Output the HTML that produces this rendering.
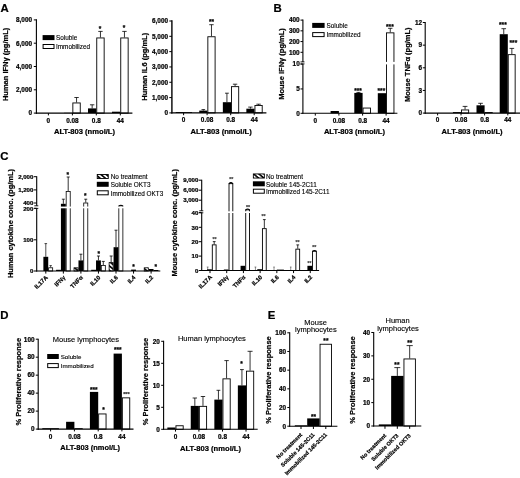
<!DOCTYPE html>
<html lang="en">
<head>
<meta charset="utf-8">
<title>Figure</title>
<style>
html,body{margin:0;padding:0;background:#fff;}
body{width:520px;height:478px;overflow:hidden;}
svg{display:block;font-family:'Liberation Sans', Arial, Helvetica, sans-serif;filter:blur(0.35px);}
</style>
</head>
<body>
<svg width="520" height="478" viewBox="0 0 520 478">
<defs>
<pattern id="hatch" width="3.4" height="3.4" patternUnits="userSpaceOnUse" patternTransform="rotate(40)">
<rect width="3.4" height="3.4" fill="#fff"/>
<rect width="3.4" height="1.6" fill="#000"/>
</pattern>
</defs>
<rect width="520" height="478" fill="#fff"/>
<text x="0.5" y="11.7" font-size="11.4" text-anchor="start" fill="#000" font-weight="bold" stroke="#000" stroke-width="0.22">A</text>
<text x="273.4" y="11.7" font-size="11.4" text-anchor="start" fill="#000" font-weight="bold" stroke="#000" stroke-width="0.22">B</text>
<text x="0.3" y="160.3" font-size="11.4" text-anchor="start" fill="#000" font-weight="bold" stroke="#000" stroke-width="0.22">C</text>
<text x="0.3" y="318.7" font-size="11.4" text-anchor="start" fill="#000" font-weight="bold" stroke="#000" stroke-width="0.22">D</text>
<text x="267.8" y="318.7" font-size="11.4" text-anchor="start" fill="#000" font-weight="bold" stroke="#000" stroke-width="0.22">E</text>
<g>
<rect x="64.1" y="112.81" width="8.3" height="0.29" fill="#000"/>
<rect x="72.85" y="102.95" width="7.4" height="10.15" fill="#fff" stroke="#000" stroke-width="0.9"/>
<line x1="76.55" y1="97.5" x2="76.55" y2="102.5" stroke="#000" stroke-width="0.8"/>
<line x1="74.35" y1="97.5" x2="78.75" y2="97.5" stroke="#000" stroke-width="0.8"/>
<line x1="92.15" y1="104.8" x2="92.15" y2="108.4" stroke="#000" stroke-width="0.8"/>
<line x1="89.95" y1="104.8" x2="94.35" y2="104.8" stroke="#000" stroke-width="0.8"/>
<rect x="88" y="108.4" width="8.3" height="4.7" fill="#000"/>
<line x1="100.45" y1="31.4" x2="100.45" y2="37.5" stroke="#000" stroke-width="0.8"/>
<line x1="98.25" y1="31.4" x2="102.65" y2="31.4" stroke="#000" stroke-width="0.8"/>
<rect x="96.75" y="37.95" width="7.4" height="75.15" fill="#fff" stroke="#000" stroke-width="0.9"/>
<rect x="112" y="111.7" width="8.3" height="1.4" fill="#000"/>
<line x1="124.45" y1="31.4" x2="124.45" y2="37.5" stroke="#000" stroke-width="0.8"/>
<line x1="122.25" y1="31.4" x2="126.65" y2="31.4" stroke="#000" stroke-width="0.8"/>
<rect x="120.75" y="37.95" width="7.4" height="75.15" fill="#fff" stroke="#000" stroke-width="0.9"/>
<text x="100.1" y="30.98" font-size="6.5" text-anchor="middle" fill="#000" font-weight="bold" stroke="#000" stroke-width="0.22">*</text>
<text x="124.1" y="29.78" font-size="6.5" text-anchor="middle" fill="#000" font-weight="bold" stroke="#000" stroke-width="0.22">*</text>
<line x1="36.4" y1="19.35" x2="36.4" y2="113.65" stroke="#000" stroke-width="1.1"/>
<line x1="35.85" y1="113.1" x2="132.4" y2="113.1" stroke="#000" stroke-width="1.1"/>
<line x1="33.8" y1="113.1" x2="36.4" y2="113.1" stroke="#000" stroke-width="1"/>
<text x="32" y="115.4" font-size="6.4" text-anchor="end" fill="#000" font-weight="bold" stroke="#000" stroke-width="0.22">0</text>
<line x1="33.8" y1="89.8" x2="36.4" y2="89.8" stroke="#000" stroke-width="1"/>
<text x="32" y="92.1" font-size="6.4" text-anchor="end" fill="#000" font-weight="bold" stroke="#000" stroke-width="0.22">2,000</text>
<line x1="33.8" y1="66.5" x2="36.4" y2="66.5" stroke="#000" stroke-width="1"/>
<text x="32" y="68.8" font-size="6.4" text-anchor="end" fill="#000" font-weight="bold" stroke="#000" stroke-width="0.22">4,000</text>
<line x1="33.8" y1="43.2" x2="36.4" y2="43.2" stroke="#000" stroke-width="1"/>
<text x="32" y="45.5" font-size="6.4" text-anchor="end" fill="#000" font-weight="bold" stroke="#000" stroke-width="0.22">6,000</text>
<line x1="33.8" y1="19.9" x2="36.4" y2="19.9" stroke="#000" stroke-width="1"/>
<text x="32" y="22.2" font-size="6.4" text-anchor="end" fill="#000" font-weight="bold" stroke="#000" stroke-width="0.22">8,000</text>
<line x1="48.4" y1="113.1" x2="48.4" y2="115.4" stroke="#000" stroke-width="1"/>
<text x="48.4" y="122.7" font-size="6.4" text-anchor="middle" fill="#000" font-weight="bold" stroke="#000" stroke-width="0.22">0</text>
<line x1="72.4" y1="113.1" x2="72.4" y2="115.4" stroke="#000" stroke-width="1"/>
<text x="72.4" y="122.7" font-size="6.4" text-anchor="middle" fill="#000" font-weight="bold" stroke="#000" stroke-width="0.22">0.08</text>
<line x1="96.3" y1="113.1" x2="96.3" y2="115.4" stroke="#000" stroke-width="1"/>
<text x="96.3" y="122.7" font-size="6.4" text-anchor="middle" fill="#000" font-weight="bold" stroke="#000" stroke-width="0.22">0.8</text>
<line x1="120.3" y1="113.1" x2="120.3" y2="115.4" stroke="#000" stroke-width="1"/>
<text x="120.3" y="122.7" font-size="6.4" text-anchor="middle" fill="#000" font-weight="bold" stroke="#000" stroke-width="0.22">44</text>
<text x="84.5" y="133.6" font-size="7.6" text-anchor="middle" fill="#000" font-weight="bold" stroke="#000" stroke-width="0.22">ALT-803 (nmol/L)</text>
<text x="7.7" y="64.4" font-size="7.5" text-anchor="middle" fill="#000" font-weight="bold" stroke="#000" stroke-width="0.22" transform="rotate(-90 7.7 64.4)">Human IFNγ (pg/mL)</text>
<rect x="42.6" y="35.1" width="11.9" height="5" fill="#000"/>
<rect x="43.1" y="44.5" width="10.9" height="4" fill="#fff" stroke="#000" stroke-width="1"/>
<text x="56" y="39.9" font-size="6.4" text-anchor="start" fill="#000" stroke="#000" stroke-width="0.12">Soluble</text>
<text x="56" y="48.8" font-size="6.4" text-anchor="start" fill="#000" stroke="#000" stroke-width="0.12">Immobilized</text>
</g>
<g>
<rect x="175.75" y="112" width="8.15" height="0.9" fill="#000"/>
<rect x="183.9" y="112.1" width="8.15" height="0.8" fill="#000"/>
<line x1="203.33" y1="109.6" x2="203.33" y2="110.6" stroke="#000" stroke-width="0.8"/>
<line x1="201.53" y1="109.6" x2="205.13" y2="109.6" stroke="#000" stroke-width="0.8"/>
<rect x="199.25" y="110.6" width="8.15" height="2.3" fill="#000"/>
<line x1="211.47" y1="24.7" x2="211.47" y2="36.3" stroke="#000" stroke-width="0.8"/>
<line x1="209.28" y1="24.7" x2="213.67" y2="24.7" stroke="#000" stroke-width="0.8"/>
<rect x="207.85" y="36.75" width="7.25" height="76.15" fill="#fff" stroke="#000" stroke-width="0.9"/>
<text x="211.5" y="24.38" font-size="6.5" text-anchor="middle" fill="#000" font-weight="bold" stroke="#000" stroke-width="0.22">**</text>
<line x1="226.93" y1="93.2" x2="226.93" y2="102.2" stroke="#000" stroke-width="0.8"/>
<line x1="225.03" y1="93.2" x2="228.83" y2="93.2" stroke="#000" stroke-width="0.8"/>
<rect x="222.85" y="102.2" width="8.15" height="10.7" fill="#000"/>
<line x1="235.07" y1="84.2" x2="235.07" y2="86.2" stroke="#000" stroke-width="0.8"/>
<line x1="232.88" y1="84.2" x2="237.27" y2="84.2" stroke="#000" stroke-width="0.8"/>
<rect x="231.45" y="86.65" width="7.25" height="26.25" fill="#fff" stroke="#000" stroke-width="0.9"/>
<line x1="250.43" y1="107.1" x2="250.43" y2="108.7" stroke="#000" stroke-width="0.8"/>
<line x1="248.23" y1="107.1" x2="252.62" y2="107.1" stroke="#000" stroke-width="0.8"/>
<rect x="246.35" y="108.7" width="8.15" height="4.2" fill="#000"/>
<line x1="258.57" y1="104.2" x2="258.57" y2="105" stroke="#000" stroke-width="0.8"/>
<line x1="256.38" y1="104.2" x2="260.77" y2="104.2" stroke="#000" stroke-width="0.8"/>
<rect x="254.95" y="105.45" width="7.25" height="7.45" fill="#fff" stroke="#000" stroke-width="0.9"/>
<line x1="171.9" y1="20.3" x2="171.9" y2="113.6" stroke="#000" stroke-width="1.4"/>
<line x1="171.3" y1="112.9" x2="266.4" y2="112.9" stroke="#000" stroke-width="1.2"/>
<line x1="169.3" y1="112.9" x2="171.9" y2="112.9" stroke="#000" stroke-width="1"/>
<text x="168" y="115.2" font-size="6.4" text-anchor="end" fill="#000" font-weight="bold" stroke="#000" stroke-width="0.22">0</text>
<line x1="169.3" y1="97.58" x2="171.9" y2="97.58" stroke="#000" stroke-width="1"/>
<text x="168" y="99.89" font-size="6.4" text-anchor="end" fill="#000" font-weight="bold" stroke="#000" stroke-width="0.22">1,000</text>
<line x1="169.3" y1="82.27" x2="171.9" y2="82.27" stroke="#000" stroke-width="1"/>
<text x="168" y="84.57" font-size="6.4" text-anchor="end" fill="#000" font-weight="bold" stroke="#000" stroke-width="0.22">2,000</text>
<line x1="169.3" y1="66.95" x2="171.9" y2="66.95" stroke="#000" stroke-width="1"/>
<text x="168" y="69.25" font-size="6.4" text-anchor="end" fill="#000" font-weight="bold" stroke="#000" stroke-width="0.22">3,000</text>
<line x1="169.3" y1="51.63" x2="171.9" y2="51.63" stroke="#000" stroke-width="1"/>
<text x="168" y="53.94" font-size="6.4" text-anchor="end" fill="#000" font-weight="bold" stroke="#000" stroke-width="0.22">4,000</text>
<line x1="169.3" y1="36.32" x2="171.9" y2="36.32" stroke="#000" stroke-width="1"/>
<text x="168" y="38.62" font-size="6.4" text-anchor="end" fill="#000" font-weight="bold" stroke="#000" stroke-width="0.22">5,000</text>
<line x1="169.3" y1="21" x2="171.9" y2="21" stroke="#000" stroke-width="1"/>
<text x="168" y="23.3" font-size="6.4" text-anchor="end" fill="#000" font-weight="bold" stroke="#000" stroke-width="0.22">6,000</text>
<line x1="183.6" y1="112.9" x2="183.6" y2="115.2" stroke="#000" stroke-width="1"/>
<text x="183.6" y="122.2" font-size="6.4" text-anchor="middle" fill="#000" font-weight="bold" stroke="#000" stroke-width="0.22">0</text>
<line x1="207.1" y1="112.9" x2="207.1" y2="115.2" stroke="#000" stroke-width="1"/>
<text x="207.1" y="122.2" font-size="6.4" text-anchor="middle" fill="#000" font-weight="bold" stroke="#000" stroke-width="0.22">0.08</text>
<line x1="230.7" y1="112.9" x2="230.7" y2="115.2" stroke="#000" stroke-width="1"/>
<text x="230.7" y="122.2" font-size="6.4" text-anchor="middle" fill="#000" font-weight="bold" stroke="#000" stroke-width="0.22">0.8</text>
<line x1="254.2" y1="112.9" x2="254.2" y2="115.2" stroke="#000" stroke-width="1"/>
<text x="254.2" y="122.2" font-size="6.4" text-anchor="middle" fill="#000" font-weight="bold" stroke="#000" stroke-width="0.22">44</text>
<text x="221.1" y="133.6" font-size="7.65" text-anchor="middle" fill="#000" font-weight="bold" stroke="#000" stroke-width="0.22">ALT-803 (nmol/L)</text>
<text x="146.8" y="66.8" font-size="7.5" text-anchor="middle" fill="#000" font-weight="bold" stroke="#000" stroke-width="0.22" transform="rotate(-90 146.8 66.8)">Human IL6 (pg/mL)</text>
</g>
<g>
<rect x="330.6" y="111" width="8.3" height="2.3" fill="#000"/>
<rect x="354.3" y="92.9" width="8.3" height="20.4" fill="#000"/>
<line x1="358.45" y1="92.4" x2="358.45" y2="93" stroke="#000" stroke-width="0.8"/>
<line x1="356.45" y1="92.4" x2="360.45" y2="92.4" stroke="#000" stroke-width="0.8"/>
<rect x="363.05" y="108.05" width="7.4" height="5.25" fill="#fff" stroke="#000" stroke-width="0.9"/>
<rect x="377.8" y="93.2" width="8.3" height="20.1" fill="#000"/>
<line x1="390.25" y1="28.3" x2="390.25" y2="32.4" stroke="#000" stroke-width="0.8"/>
<line x1="388.05" y1="28.3" x2="392.45" y2="28.3" stroke="#000" stroke-width="0.8"/>
<rect x="386.55" y="32.85" width="7.4" height="80.45" fill="#fff" stroke="#000" stroke-width="0.9"/>
<rect x="385.8" y="61.9" width="9.5" height="2.5" fill="#fff"/>
<text x="358" y="93.28" font-size="6.5" text-anchor="middle" fill="#000" font-weight="bold" stroke="#000" stroke-width="0.22">***</text>
<text x="381.4" y="93.28" font-size="6.5" text-anchor="middle" fill="#000" font-weight="bold" stroke="#000" stroke-width="0.22">***</text>
<text x="389.9" y="28.78" font-size="6.5" text-anchor="middle" fill="#000" font-weight="bold" stroke="#000" stroke-width="0.22">***</text>
<line x1="302.9" y1="19.6" x2="302.9" y2="61.9" stroke="#000" stroke-width="1.1"/>
<line x1="302.9" y1="63.9" x2="302.9" y2="113.8" stroke="#000" stroke-width="1.1"/>
<line x1="300.5" y1="61.9" x2="304.5" y2="61.9" stroke="#000" stroke-width="0.9"/>
<line x1="300.5" y1="63.9" x2="304.5" y2="63.9" stroke="#000" stroke-width="0.9"/>
<line x1="302.35" y1="113.3" x2="397.4" y2="113.3" stroke="#000" stroke-width="1.1"/>
<line x1="300.5" y1="20.11" x2="302.9" y2="20.11" stroke="#000" stroke-width="1"/>
<text x="299.7" y="22.41" font-size="6.4" text-anchor="end" fill="#000" font-weight="bold" stroke="#000" stroke-width="0.22">400</text>
<line x1="300.5" y1="30.84" x2="302.9" y2="30.84" stroke="#000" stroke-width="1"/>
<text x="299.7" y="33.14" font-size="6.4" text-anchor="end" fill="#000" font-weight="bold" stroke="#000" stroke-width="0.22">300</text>
<line x1="300.5" y1="41.57" x2="302.9" y2="41.57" stroke="#000" stroke-width="1"/>
<text x="299.7" y="43.87" font-size="6.4" text-anchor="end" fill="#000" font-weight="bold" stroke="#000" stroke-width="0.22">200</text>
<line x1="300.5" y1="52.3" x2="302.9" y2="52.3" stroke="#000" stroke-width="1"/>
<text x="299.7" y="54.6" font-size="6.4" text-anchor="end" fill="#000" font-weight="bold" stroke="#000" stroke-width="0.22">100</text>
<line x1="300.5" y1="64.1" x2="302.9" y2="64.1" stroke="#000" stroke-width="1"/>
<text x="299.7" y="66.4" font-size="6.4" text-anchor="end" fill="#000" font-weight="bold" stroke="#000" stroke-width="0.22">10</text>
<line x1="300.5" y1="88.95" x2="302.9" y2="88.95" stroke="#000" stroke-width="1"/>
<text x="299.7" y="91.25" font-size="6.4" text-anchor="end" fill="#000" font-weight="bold" stroke="#000" stroke-width="0.22">5</text>
<line x1="300.5" y1="113.3" x2="302.9" y2="113.3" stroke="#000" stroke-width="1"/>
<text x="299.7" y="115.6" font-size="6.4" text-anchor="end" fill="#000" font-weight="bold" stroke="#000" stroke-width="0.22">0</text>
<line x1="315.3" y1="113.3" x2="315.3" y2="115.6" stroke="#000" stroke-width="1"/>
<text x="315.3" y="122.5" font-size="6.4" text-anchor="middle" fill="#000" font-weight="bold" stroke="#000" stroke-width="0.22">0</text>
<line x1="338.9" y1="113.3" x2="338.9" y2="115.6" stroke="#000" stroke-width="1"/>
<text x="338.9" y="122.5" font-size="6.4" text-anchor="middle" fill="#000" font-weight="bold" stroke="#000" stroke-width="0.22">0.08</text>
<line x1="362.6" y1="113.3" x2="362.6" y2="115.6" stroke="#000" stroke-width="1"/>
<text x="362.6" y="122.5" font-size="6.4" text-anchor="middle" fill="#000" font-weight="bold" stroke="#000" stroke-width="0.22">0.8</text>
<line x1="386.1" y1="113.3" x2="386.1" y2="115.6" stroke="#000" stroke-width="1"/>
<text x="386.1" y="122.5" font-size="6.4" text-anchor="middle" fill="#000" font-weight="bold" stroke="#000" stroke-width="0.22">44</text>
<text x="354.4" y="133.6" font-size="7.6" text-anchor="middle" fill="#000" font-weight="bold" stroke="#000" stroke-width="0.22">ALT-803 (nmol/L)</text>
<text x="283.7" y="64" font-size="7.5" text-anchor="middle" fill="#000" font-weight="bold" stroke="#000" stroke-width="0.22" transform="rotate(-90 283.7 64)">Mouse IFNγ (pg/mL)</text>
<rect x="312.2" y="22.9" width="12.4" height="5" fill="#000"/>
<rect x="312.7" y="32.6" width="11.4" height="4" fill="#fff" stroke="#000" stroke-width="1"/>
<text x="326.4" y="27.7" font-size="6.4" text-anchor="start" fill="#000" stroke="#000" stroke-width="0.12">Soluble</text>
<text x="326.4" y="36.9" font-size="6.4" text-anchor="start" fill="#000" stroke="#000" stroke-width="0.12">Immobilized</text>
</g>
<g>
<rect x="452.9" y="112.1" width="8.1" height="1" fill="#000"/>
<line x1="465.05" y1="106.4" x2="465.05" y2="109.5" stroke="#000" stroke-width="0.8"/>
<line x1="462.65" y1="106.4" x2="467.45" y2="106.4" stroke="#000" stroke-width="0.8"/>
<rect x="461.45" y="109.95" width="7.2" height="3.15" fill="#fff" stroke="#000" stroke-width="0.9"/>
<line x1="480.55" y1="103.3" x2="480.55" y2="105.3" stroke="#000" stroke-width="0.8"/>
<line x1="478.25" y1="103.3" x2="482.85" y2="103.3" stroke="#000" stroke-width="0.8"/>
<rect x="476.5" y="105.3" width="8.1" height="7.8" fill="#000"/>
<rect x="484.6" y="112.1" width="8.1" height="1" fill="#000"/>
<line x1="503.75" y1="28.7" x2="503.75" y2="34.2" stroke="#000" stroke-width="0.8"/>
<line x1="501.45" y1="28.7" x2="506.05" y2="28.7" stroke="#000" stroke-width="0.8"/>
<rect x="499.7" y="34.2" width="8.1" height="78.9" fill="#000"/>
<line x1="511.85" y1="48.4" x2="511.85" y2="54.2" stroke="#000" stroke-width="0.8"/>
<line x1="509.55" y1="48.4" x2="514.15" y2="48.4" stroke="#000" stroke-width="0.8"/>
<rect x="508.25" y="54.65" width="6.9" height="58.45" fill="#fff" stroke="#000" stroke-width="0.9"/>
<text x="502.9" y="27.28" font-size="6.5" text-anchor="middle" fill="#000" font-weight="bold" stroke="#000" stroke-width="0.22">***</text>
<text x="513.4" y="44.88" font-size="6.5" text-anchor="middle" fill="#000" font-weight="bold" stroke="#000" stroke-width="0.22">***</text>
<line x1="425.2" y1="21.95" x2="425.2" y2="113.65" stroke="#000" stroke-width="1.1"/>
<line x1="424.65" y1="113.1" x2="520" y2="113.1" stroke="#000" stroke-width="1.1"/>
<line x1="422.8" y1="113.1" x2="425.2" y2="113.1" stroke="#000" stroke-width="1"/>
<text x="422" y="115.4" font-size="6.4" text-anchor="end" fill="#000" font-weight="bold" stroke="#000" stroke-width="0.22">0</text>
<line x1="422.8" y1="90.45" x2="425.2" y2="90.45" stroke="#000" stroke-width="1"/>
<text x="422" y="92.75" font-size="6.4" text-anchor="end" fill="#000" font-weight="bold" stroke="#000" stroke-width="0.22">3</text>
<line x1="422.8" y1="67.8" x2="425.2" y2="67.8" stroke="#000" stroke-width="1"/>
<text x="422" y="70.1" font-size="6.4" text-anchor="end" fill="#000" font-weight="bold" stroke="#000" stroke-width="0.22">6</text>
<line x1="422.8" y1="45.15" x2="425.2" y2="45.15" stroke="#000" stroke-width="1"/>
<text x="422" y="47.45" font-size="6.4" text-anchor="end" fill="#000" font-weight="bold" stroke="#000" stroke-width="0.22">9</text>
<line x1="422.8" y1="22.5" x2="425.2" y2="22.5" stroke="#000" stroke-width="1"/>
<text x="422" y="24.8" font-size="6.4" text-anchor="end" fill="#000" font-weight="bold" stroke="#000" stroke-width="0.22">12</text>
<line x1="437.6" y1="113.1" x2="437.6" y2="115.4" stroke="#000" stroke-width="1"/>
<text x="437.6" y="122.3" font-size="6.4" text-anchor="middle" fill="#000" font-weight="bold" stroke="#000" stroke-width="0.22">0</text>
<line x1="461" y1="113.1" x2="461" y2="115.4" stroke="#000" stroke-width="1"/>
<text x="461" y="122.3" font-size="6.4" text-anchor="middle" fill="#000" font-weight="bold" stroke="#000" stroke-width="0.22">0.08</text>
<line x1="484.6" y1="113.1" x2="484.6" y2="115.4" stroke="#000" stroke-width="1"/>
<text x="484.6" y="122.3" font-size="6.4" text-anchor="middle" fill="#000" font-weight="bold" stroke="#000" stroke-width="0.22">0.8</text>
<line x1="507.8" y1="113.1" x2="507.8" y2="115.4" stroke="#000" stroke-width="1"/>
<text x="507.8" y="122.3" font-size="6.4" text-anchor="middle" fill="#000" font-weight="bold" stroke="#000" stroke-width="0.22">44</text>
<text x="472.1" y="133.9" font-size="7.6" text-anchor="middle" fill="#000" font-weight="bold" stroke="#000" stroke-width="0.22">ALT-803 (nmol/L)</text>
<text x="410.5" y="64.7" font-size="7.5" text-anchor="middle" fill="#000" font-weight="bold" stroke="#000" stroke-width="0.22" transform="rotate(-90 410.5 64.7)">Mouse TNFα (pg/mL)</text>
</g>
<g>
<line x1="45.8" y1="243.6" x2="45.8" y2="256.8" stroke="#000" stroke-width="0.7"/>
<line x1="44.5" y1="243.6" x2="47.1" y2="243.6" stroke="#000" stroke-width="0.7"/>
<rect x="43.38" y="256.8" width="4.85" height="14.2" fill="#000"/>
<line x1="50.65" y1="265.6" x2="50.65" y2="267.4" stroke="#000" stroke-width="0.7"/>
<line x1="49.45" y1="265.6" x2="51.85" y2="265.6" stroke="#000" stroke-width="0.7"/>
<rect x="48.62" y="267.8" width="4.05" height="3.2" fill="#fff" stroke="#000" stroke-width="0.8"/>
<rect x="56.07" y="269.8" width="4.85" height="1.2" fill="#000"/>
<line x1="63.35" y1="199.2" x2="63.35" y2="203.8" stroke="#000" stroke-width="0.8"/>
<line x1="61.85" y1="199.2" x2="64.85" y2="199.2" stroke="#000" stroke-width="0.8"/>
<rect x="60.92" y="203.8" width="4.85" height="67.2" fill="#000"/>
<line x1="68.2" y1="177" x2="68.2" y2="191.1" stroke="#000" stroke-width="0.8"/>
<line x1="66.7" y1="177" x2="69.7" y2="177" stroke="#000" stroke-width="0.8"/>
<rect x="66.17" y="191.5" width="4.05" height="79.5" fill="#fff" stroke="#000" stroke-width="0.8"/>
<text x="67.7" y="176.58" font-size="6.5" text-anchor="middle" fill="#000" font-weight="bold" stroke="#000" stroke-width="0.22">*</text>
<rect x="74.03" y="267.8" width="4.05" height="3.2" fill="url(#hatch)" stroke="#000" stroke-width="0.8"/>
<line x1="80.9" y1="254.2" x2="80.9" y2="260.4" stroke="#000" stroke-width="0.8"/>
<line x1="79.4" y1="254.2" x2="82.4" y2="254.2" stroke="#000" stroke-width="0.8"/>
<rect x="78.48" y="260.4" width="4.85" height="10.6" fill="#000"/>
<line x1="85.75" y1="199.2" x2="85.75" y2="202.6" stroke="#000" stroke-width="0.8"/>
<line x1="84.25" y1="199.2" x2="87.25" y2="199.2" stroke="#000" stroke-width="0.8"/>
<rect x="83.73" y="203" width="4.05" height="68" fill="#fff" stroke="#000" stroke-width="0.8"/>
<text x="85.2" y="197.58" font-size="6.5" text-anchor="middle" fill="#000" font-weight="bold" stroke="#000" stroke-width="0.22">*</text>
<rect x="91.17" y="269.8" width="4.85" height="1.2" fill="#000"/>
<line x1="98.45" y1="256" x2="98.45" y2="260.4" stroke="#000" stroke-width="0.8"/>
<line x1="96.95" y1="256" x2="99.95" y2="256" stroke="#000" stroke-width="0.8"/>
<rect x="96.03" y="260.4" width="4.85" height="10.6" fill="#000"/>
<line x1="103.3" y1="261.4" x2="103.3" y2="265" stroke="#000" stroke-width="0.8"/>
<line x1="101.8" y1="261.4" x2="104.8" y2="261.4" stroke="#000" stroke-width="0.8"/>
<rect x="101.28" y="265.4" width="4.05" height="5.6" fill="#fff" stroke="#000" stroke-width="0.8"/>
<text x="98.7" y="255.58" font-size="6.5" text-anchor="middle" fill="#000" font-weight="bold" stroke="#000" stroke-width="0.22">*</text>
<line x1="111.15" y1="256" x2="111.15" y2="262.2" stroke="#000" stroke-width="0.8"/>
<line x1="109.65" y1="256" x2="112.65" y2="256" stroke="#000" stroke-width="0.8"/>
<rect x="109.12" y="262.6" width="4.05" height="8.4" fill="url(#hatch)" stroke="#000" stroke-width="0.8"/>
<line x1="116" y1="230.2" x2="116" y2="247.2" stroke="#000" stroke-width="0.8"/>
<line x1="114.5" y1="230.2" x2="117.5" y2="230.2" stroke="#000" stroke-width="0.8"/>
<rect x="113.58" y="247.2" width="4.85" height="23.8" fill="#000"/>
<rect x="118.83" y="206" width="4.05" height="65" fill="#fff" stroke="#000" stroke-width="0.8"/>
<path d="M118.83 206.2 Q120.85 204.3 122.88 206.2" fill="none" stroke="#000" stroke-width="1.1"/>
<rect x="131.12" y="269.6" width="4.85" height="1.4" fill="#000"/>
<text x="133.6" y="268.88" font-size="6.5" text-anchor="middle" fill="#000" font-weight="bold" stroke="#000" stroke-width="0.22">*</text>
<rect x="144.23" y="267.8" width="4.05" height="3.2" fill="url(#hatch)" stroke="#000" stroke-width="0.8"/>
<rect x="148.68" y="269" width="4.85" height="2" fill="#000"/>
<rect x="153.53" y="270" width="4.85" height="1" fill="#000"/>
<text x="155.8" y="268.88" font-size="6.5" text-anchor="middle" fill="#000" font-weight="bold" stroke="#000" stroke-width="0.22">*</text>
<rect x="38.7" y="206.55" width="100" height="1.75" fill="#fff"/>
<line x1="36.7" y1="176.2" x2="36.7" y2="205.8" stroke="#000" stroke-width="1.1"/>
<line x1="36.7" y1="208.4" x2="36.7" y2="271.5" stroke="#000" stroke-width="1.1"/>
<line x1="34.3" y1="205.8" x2="38.3" y2="205.8" stroke="#000" stroke-width="0.9"/>
<line x1="34.3" y1="208.4" x2="38.3" y2="208.4" stroke="#000" stroke-width="0.9"/>
<line x1="36.15" y1="271" x2="160.3" y2="271" stroke="#000" stroke-width="1.1"/>
<line x1="33.8" y1="176.7" x2="36.7" y2="176.7" stroke="#000" stroke-width="1"/>
<text x="33.4" y="178.9" font-size="6.1" text-anchor="end" fill="#000" font-weight="bold" stroke="#000" stroke-width="0.22">2,000</text>
<line x1="33.8" y1="189.9" x2="36.7" y2="189.9" stroke="#000" stroke-width="1"/>
<text x="33.4" y="192.1" font-size="6.1" text-anchor="end" fill="#000" font-weight="bold" stroke="#000" stroke-width="0.22">1,200</text>
<line x1="33.8" y1="203" x2="36.7" y2="203" stroke="#000" stroke-width="1"/>
<text x="33.4" y="205.2" font-size="6.1" text-anchor="end" fill="#000" font-weight="bold" stroke="#000" stroke-width="0.22">400</text>
<line x1="33.8" y1="208.3" x2="36.7" y2="208.3" stroke="#000" stroke-width="1"/>
<text x="33.4" y="210.5" font-size="6.1" text-anchor="end" fill="#000" font-weight="bold" stroke="#000" stroke-width="0.22">200</text>
<line x1="33.8" y1="239.8" x2="36.7" y2="239.8" stroke="#000" stroke-width="1"/>
<text x="33.4" y="242" font-size="6.1" text-anchor="end" fill="#000" font-weight="bold" stroke="#000" stroke-width="0.22">100</text>
<line x1="33.8" y1="271" x2="36.7" y2="271" stroke="#000" stroke-width="1"/>
<text x="33.4" y="273.2" font-size="6.1" text-anchor="end" fill="#000" font-weight="bold" stroke="#000" stroke-width="0.22">0</text>
<line x1="45.8" y1="271" x2="45.8" y2="273.6" stroke="#000" stroke-width="1"/>
<text x="48.2" y="278" font-size="5.9" text-anchor="end" fill="#000" font-weight="bold" stroke="#000" stroke-width="0.22" transform="rotate(-45 48.2 278)">IL17A</text>
<line x1="63.35" y1="271" x2="63.35" y2="273.6" stroke="#000" stroke-width="1"/>
<text x="65.75" y="278" font-size="5.9" text-anchor="end" fill="#000" font-weight="bold" stroke="#000" stroke-width="0.22" transform="rotate(-45 65.75 278)">IFNγ</text>
<line x1="80.9" y1="271" x2="80.9" y2="273.6" stroke="#000" stroke-width="1"/>
<text x="83.3" y="278" font-size="5.9" text-anchor="end" fill="#000" font-weight="bold" stroke="#000" stroke-width="0.22" transform="rotate(-45 83.3 278)">TNFα</text>
<line x1="98.45" y1="271" x2="98.45" y2="273.6" stroke="#000" stroke-width="1"/>
<text x="100.85" y="278" font-size="5.9" text-anchor="end" fill="#000" font-weight="bold" stroke="#000" stroke-width="0.22" transform="rotate(-45 100.85 278)">IL10</text>
<line x1="116" y1="271" x2="116" y2="273.6" stroke="#000" stroke-width="1"/>
<text x="118.4" y="278" font-size="5.9" text-anchor="end" fill="#000" font-weight="bold" stroke="#000" stroke-width="0.22" transform="rotate(-45 118.4 278)">IL6</text>
<line x1="133.55" y1="271" x2="133.55" y2="273.6" stroke="#000" stroke-width="1"/>
<text x="135.95" y="278" font-size="5.9" text-anchor="end" fill="#000" font-weight="bold" stroke="#000" stroke-width="0.22" transform="rotate(-45 135.95 278)">IL4</text>
<line x1="151.1" y1="271" x2="151.1" y2="273.6" stroke="#000" stroke-width="1"/>
<text x="153.5" y="278" font-size="5.9" text-anchor="end" fill="#000" font-weight="bold" stroke="#000" stroke-width="0.22" transform="rotate(-45 153.5 278)">IL2</text>
<text x="13" y="223.5" font-size="7.5" text-anchor="middle" fill="#000" font-weight="bold" stroke="#000" stroke-width="0.22" transform="rotate(-90 13 223.5)">Human cytokine conc. (pg/mL)</text>
<rect x="97.25" y="174.45" width="11" height="4.1" fill="url(#hatch)" stroke="#000" stroke-width="0.9"/>
<rect x="96.8" y="181.8" width="11.9" height="5" fill="#000"/>
<rect x="97.3" y="190.8" width="10.9" height="4" fill="#fff" stroke="#000" stroke-width="1"/>
<text x="110.7" y="179.3" font-size="6.4" text-anchor="start" fill="#000" stroke="#000" stroke-width="0.12">No treatment</text>
<text x="110.7" y="187.1" font-size="6.4" text-anchor="start" fill="#000" stroke="#000" stroke-width="0.12">Soluble OKT3</text>
<text x="110.7" y="195.6" font-size="6.4" text-anchor="start" fill="#000" stroke="#000" stroke-width="0.12">Immobilized OKT3</text>
</g>
<g>
<line x1="207.65" y1="267" x2="207.65" y2="270.5" stroke="#444" stroke-width="0.6"/>
<line x1="206.75" y1="267" x2="208.55" y2="267" stroke="#444" stroke-width="0.6"/>
<rect x="207.15" y="269.3" width="4.7" height="1.2" fill="#000"/>
<line x1="214.2" y1="241.6" x2="214.2" y2="244.4" stroke="#000" stroke-width="0.8"/>
<line x1="212.8" y1="241.6" x2="215.6" y2="241.6" stroke="#000" stroke-width="0.8"/>
<rect x="212.3" y="244.85" width="3.8" height="25.65" fill="#fff" stroke="#000" stroke-width="0.9"/>
<text x="214.6" y="241" font-size="5.2" text-anchor="middle" fill="#444" font-weight="bold" stroke="#444" stroke-width="0.22">**</text>
<rect x="223.86" y="269.5" width="4.7" height="1" fill="#000"/>
<rect x="229.01" y="183.65" width="3.8" height="86.85" fill="#fff" stroke="#000" stroke-width="0.9"/>
<path d="M228.96 183.8 Q230.91 181.4 232.86 183.8" fill="none" stroke="#000" stroke-width="1.1"/>
<text x="231.3" y="181.1" font-size="5.2" text-anchor="middle" fill="#444" font-weight="bold" stroke="#444" stroke-width="0.22">**</text>
<rect x="240.57" y="265.8" width="4.7" height="4.7" fill="#000"/>
<rect x="245.72" y="209.85" width="3.8" height="60.65" fill="#fff" stroke="#000" stroke-width="0.9"/>
<path d="M245.67 210 Q247.62 208 249.57 210" fill="none" stroke="#000" stroke-width="1.1"/>
<text x="247.9" y="208.7" font-size="5.2" text-anchor="middle" fill="#444" font-weight="bold" stroke="#444" stroke-width="0.22">**</text>
<line x1="255.43" y1="267" x2="255.43" y2="270.5" stroke="#444" stroke-width="0.6"/>
<line x1="254.53" y1="267" x2="256.33" y2="267" stroke="#444" stroke-width="0.6"/>
<rect x="257.28" y="269.2" width="4.7" height="1.3" fill="#000"/>
<line x1="264.33" y1="219.6" x2="264.33" y2="228.2" stroke="#000" stroke-width="0.8"/>
<line x1="262.93" y1="219.6" x2="265.73" y2="219.6" stroke="#000" stroke-width="0.8"/>
<rect x="262.43" y="228.65" width="3.8" height="41.85" fill="#fff" stroke="#000" stroke-width="0.9"/>
<text x="263.6" y="218.4" font-size="5.2" text-anchor="middle" fill="#444" font-weight="bold" stroke="#444" stroke-width="0.22">**</text>
<line x1="274.02" y1="267" x2="274.02" y2="270.5" stroke="#444" stroke-width="0.6"/>
<line x1="273.22" y1="267" x2="274.82" y2="267" stroke="#444" stroke-width="0.6"/>
<rect x="276.84" y="269.6" width="7.05" height="0.9" fill="#000"/>
<line x1="290.73" y1="267" x2="290.73" y2="270.5" stroke="#444" stroke-width="0.6"/>
<line x1="289.93" y1="267" x2="291.53" y2="267" stroke="#444" stroke-width="0.6"/>
<line x1="297.75" y1="244.9" x2="297.75" y2="248.7" stroke="#000" stroke-width="0.8"/>
<line x1="296.35" y1="244.9" x2="299.15" y2="244.9" stroke="#000" stroke-width="0.8"/>
<rect x="295.85" y="249.15" width="3.8" height="21.35" fill="#fff" stroke="#000" stroke-width="0.9"/>
<text x="297.6" y="244" font-size="5.2" text-anchor="middle" fill="#444" font-weight="bold" stroke="#444" stroke-width="0.22">**</text>
<rect x="307.41" y="265.8" width="4.7" height="4.7" fill="#000"/>
<text x="309.4" y="264.99" font-size="4.6" text-anchor="middle" fill="#444" font-weight="bold" stroke="#444" stroke-width="0.22">**</text>
<rect x="312.56" y="251.25" width="3.8" height="19.25" fill="#fff" stroke="#000" stroke-width="0.9"/>
<path d="M312.51 251.4 Q314.46 249.6 316.41 251.4" fill="none" stroke="#000" stroke-width="1.1"/>
<text x="314.3" y="248.7" font-size="5.2" text-anchor="middle" fill="#444" font-weight="bold" stroke="#444" stroke-width="0.22">**</text>
<rect x="203.7" y="211.3" width="60" height="1.7" fill="#fff"/>
<line x1="201.7" y1="179.8" x2="201.7" y2="210.8" stroke="#000" stroke-width="1.1"/>
<line x1="201.7" y1="212.8" x2="201.7" y2="271" stroke="#000" stroke-width="1.1"/>
<line x1="199.3" y1="210.8" x2="203.3" y2="210.8" stroke="#000" stroke-width="0.9"/>
<line x1="199.3" y1="212.8" x2="203.3" y2="212.8" stroke="#000" stroke-width="0.9"/>
<line x1="201.15" y1="270.5" x2="319.1" y2="270.5" stroke="#000" stroke-width="1.1"/>
<line x1="198.8" y1="180.2" x2="201.7" y2="180.2" stroke="#000" stroke-width="1"/>
<text x="198.4" y="182.4" font-size="6.1" text-anchor="end" fill="#000" font-weight="bold" stroke="#000" stroke-width="0.22">9,000</text>
<line x1="198.8" y1="190.2" x2="201.7" y2="190.2" stroke="#000" stroke-width="1"/>
<text x="198.4" y="192.4" font-size="6.1" text-anchor="end" fill="#000" font-weight="bold" stroke="#000" stroke-width="0.22">6,000</text>
<line x1="198.8" y1="200.2" x2="201.7" y2="200.2" stroke="#000" stroke-width="1"/>
<text x="198.4" y="202.4" font-size="6.1" text-anchor="end" fill="#000" font-weight="bold" stroke="#000" stroke-width="0.22">3,000</text>
<line x1="198.8" y1="212.6" x2="201.7" y2="212.6" stroke="#000" stroke-width="1"/>
<text x="198.4" y="214.8" font-size="6.1" text-anchor="end" fill="#000" font-weight="bold" stroke="#000" stroke-width="0.22">40</text>
<line x1="198.8" y1="227.3" x2="201.7" y2="227.3" stroke="#000" stroke-width="1"/>
<text x="198.4" y="229.5" font-size="6.1" text-anchor="end" fill="#000" font-weight="bold" stroke="#000" stroke-width="0.22">30</text>
<line x1="198.8" y1="241.7" x2="201.7" y2="241.7" stroke="#000" stroke-width="1"/>
<text x="198.4" y="243.9" font-size="6.1" text-anchor="end" fill="#000" font-weight="bold" stroke="#000" stroke-width="0.22">20</text>
<line x1="198.8" y1="256.1" x2="201.7" y2="256.1" stroke="#000" stroke-width="1"/>
<text x="198.4" y="258.3" font-size="6.1" text-anchor="end" fill="#000" font-weight="bold" stroke="#000" stroke-width="0.22">10</text>
<line x1="198.8" y1="270.5" x2="201.7" y2="270.5" stroke="#000" stroke-width="1"/>
<text x="198.4" y="272.7" font-size="6.1" text-anchor="end" fill="#000" font-weight="bold" stroke="#000" stroke-width="0.22">0</text>
<line x1="210" y1="270.5" x2="210" y2="273.1" stroke="#000" stroke-width="1"/>
<text x="212.4" y="277.6" font-size="5.9" text-anchor="end" fill="#000" font-weight="bold" stroke="#000" stroke-width="0.22" transform="rotate(-45 212.4 277.6)">IL17A</text>
<line x1="226.71" y1="270.5" x2="226.71" y2="273.1" stroke="#000" stroke-width="1"/>
<text x="229.11" y="277.6" font-size="5.9" text-anchor="end" fill="#000" font-weight="bold" stroke="#000" stroke-width="0.22" transform="rotate(-45 229.11 277.6)">IFNγ</text>
<line x1="243.42" y1="270.5" x2="243.42" y2="273.1" stroke="#000" stroke-width="1"/>
<text x="245.82" y="277.6" font-size="5.9" text-anchor="end" fill="#000" font-weight="bold" stroke="#000" stroke-width="0.22" transform="rotate(-45 245.82 277.6)">TNFα</text>
<line x1="260.13" y1="270.5" x2="260.13" y2="273.1" stroke="#000" stroke-width="1"/>
<text x="262.53" y="277.6" font-size="5.9" text-anchor="end" fill="#000" font-weight="bold" stroke="#000" stroke-width="0.22" transform="rotate(-45 262.53 277.6)">IL10</text>
<line x1="276.84" y1="270.5" x2="276.84" y2="273.1" stroke="#000" stroke-width="1"/>
<text x="279.24" y="277.6" font-size="5.9" text-anchor="end" fill="#000" font-weight="bold" stroke="#000" stroke-width="0.22" transform="rotate(-45 279.24 277.6)">IL6</text>
<line x1="293.55" y1="270.5" x2="293.55" y2="273.1" stroke="#000" stroke-width="1"/>
<text x="295.95" y="277.6" font-size="5.9" text-anchor="end" fill="#000" font-weight="bold" stroke="#000" stroke-width="0.22" transform="rotate(-45 295.95 277.6)">IL4</text>
<line x1="310.26" y1="270.5" x2="310.26" y2="273.1" stroke="#000" stroke-width="1"/>
<text x="312.66" y="277.6" font-size="5.9" text-anchor="end" fill="#000" font-weight="bold" stroke="#000" stroke-width="0.22" transform="rotate(-45 312.66 277.6)">IL2</text>
<text x="177" y="222.8" font-size="7.5" text-anchor="middle" fill="#000" font-weight="bold" stroke="#000" stroke-width="0.22" transform="rotate(-90 177 222.8)">Mouse cytokine conc. (pg/mL)</text>
<rect x="253.35" y="173.95" width="11" height="4.1" fill="url(#hatch)" stroke="#000" stroke-width="0.9"/>
<rect x="252.9" y="181.3" width="11.9" height="5" fill="#000"/>
<rect x="253.4" y="189.2" width="10.9" height="4" fill="#fff" stroke="#000" stroke-width="1"/>
<text x="266" y="178.8" font-size="6.4" text-anchor="start" fill="#000" stroke="#000" stroke-width="0.12">No treatment</text>
<text x="266" y="186.6" font-size="6.4" text-anchor="start" fill="#000" stroke="#000" stroke-width="0.12">Soluble 145-2C11</text>
<text x="266" y="194" font-size="6.4" text-anchor="start" fill="#000" stroke="#000" stroke-width="0.12">Immobilized 145-2C11</text>
</g>
<g>
<rect x="42.3" y="428.2" width="16.6" height="0.9" fill="#000"/>
<rect x="66.1" y="421.8" width="8.3" height="7.3" fill="#000"/>
<rect x="74.4" y="428.2" width="8.3" height="0.9" fill="#000"/>
<rect x="89.9" y="391.9" width="8.3" height="37.2" fill="#000"/>
<rect x="98.65" y="413.95" width="7.4" height="15.15" fill="#fff" stroke="#000" stroke-width="0.9"/>
<rect x="113.6" y="353.6" width="8.3" height="75.5" fill="#000"/>
<rect x="122.35" y="397.85" width="7.4" height="31.25" fill="#fff" stroke="#000" stroke-width="0.9"/>
<text x="93.7" y="391.58" font-size="6.5" text-anchor="middle" fill="#000" font-weight="bold" stroke="#000" stroke-width="0.22">***</text>
<text x="103.6" y="411.98" font-size="6.5" text-anchor="middle" fill="#000" font-weight="bold" stroke="#000" stroke-width="0.22">*</text>
<text x="117.7" y="352.38" font-size="6.5" text-anchor="middle" fill="#000" font-weight="bold" stroke="#000" stroke-width="0.22">***</text>
<text x="126.4" y="395.61" font-size="5.6" text-anchor="middle" fill="#333" font-weight="bold" stroke="#333" stroke-width="0.22">***</text>
<line x1="38.2" y1="338.65" x2="38.2" y2="429.65" stroke="#000" stroke-width="1.1"/>
<line x1="37.65" y1="429.1" x2="133.5" y2="429.1" stroke="#000" stroke-width="1.1"/>
<line x1="35.8" y1="429.1" x2="38.2" y2="429.1" stroke="#000" stroke-width="1"/>
<text x="34.5" y="431.4" font-size="6.4" text-anchor="end" fill="#000" font-weight="bold" stroke="#000" stroke-width="0.22">0</text>
<line x1="35.8" y1="411.12" x2="38.2" y2="411.12" stroke="#000" stroke-width="1"/>
<text x="34.5" y="413.42" font-size="6.4" text-anchor="end" fill="#000" font-weight="bold" stroke="#000" stroke-width="0.22">20</text>
<line x1="35.8" y1="393.14" x2="38.2" y2="393.14" stroke="#000" stroke-width="1"/>
<text x="34.5" y="395.44" font-size="6.4" text-anchor="end" fill="#000" font-weight="bold" stroke="#000" stroke-width="0.22">40</text>
<line x1="35.8" y1="375.16" x2="38.2" y2="375.16" stroke="#000" stroke-width="1"/>
<text x="34.5" y="377.46" font-size="6.4" text-anchor="end" fill="#000" font-weight="bold" stroke="#000" stroke-width="0.22">60</text>
<line x1="35.8" y1="357.18" x2="38.2" y2="357.18" stroke="#000" stroke-width="1"/>
<text x="34.5" y="359.48" font-size="6.4" text-anchor="end" fill="#000" font-weight="bold" stroke="#000" stroke-width="0.22">80</text>
<line x1="35.8" y1="339.2" x2="38.2" y2="339.2" stroke="#000" stroke-width="1"/>
<text x="34.5" y="341.5" font-size="6.4" text-anchor="end" fill="#000" font-weight="bold" stroke="#000" stroke-width="0.22">100</text>
<line x1="50.6" y1="429.1" x2="50.6" y2="431.4" stroke="#000" stroke-width="1"/>
<text x="50.6" y="438.6" font-size="6.4" text-anchor="middle" fill="#000" font-weight="bold" stroke="#000" stroke-width="0.22">0</text>
<line x1="74.4" y1="429.1" x2="74.4" y2="431.4" stroke="#000" stroke-width="1"/>
<text x="74.4" y="438.6" font-size="6.4" text-anchor="middle" fill="#000" font-weight="bold" stroke="#000" stroke-width="0.22">0.08</text>
<line x1="98.2" y1="429.1" x2="98.2" y2="431.4" stroke="#000" stroke-width="1"/>
<text x="98.2" y="438.6" font-size="6.4" text-anchor="middle" fill="#000" font-weight="bold" stroke="#000" stroke-width="0.22">0.8</text>
<line x1="121.9" y1="429.1" x2="121.9" y2="431.4" stroke="#000" stroke-width="1"/>
<text x="121.9" y="438.6" font-size="6.4" text-anchor="middle" fill="#000" font-weight="bold" stroke="#000" stroke-width="0.22">44</text>
<text x="90.2" y="450.4" font-size="7.45" text-anchor="middle" fill="#000" font-weight="bold" stroke="#000" stroke-width="0.22">ALT-803 (nmol/L)</text>
<text x="20.6" y="381.7" font-size="7.5" text-anchor="middle" fill="#000" font-weight="bold" stroke="#000" stroke-width="0.22" transform="rotate(-90 20.6 381.7)">% Proliferative response</text>
<text x="85.9" y="342" font-size="7.5" text-anchor="middle" fill="#000" stroke="#000" stroke-width="0.12">Mouse lymphocytes</text>
<rect x="47.2" y="354" width="11.6" height="5" fill="#000"/>
<rect x="47.7" y="363.6" width="10.6" height="4" fill="#fff" stroke="#000" stroke-width="1"/>
<text x="60.7" y="358.73" font-size="6.2" text-anchor="start" fill="#000" stroke="#000" stroke-width="0.12">Soluble</text>
<text x="60.7" y="367.83" font-size="6.2" text-anchor="start" fill="#000" stroke="#000" stroke-width="0.12">Immobilized</text>
</g>
<g>
<rect x="167.35" y="427.5" width="8.15" height="1.8" fill="#000"/>
<rect x="175.95" y="425.75" width="7.25" height="3.55" fill="#fff" stroke="#000" stroke-width="0.9"/>
<line x1="194.83" y1="398" x2="194.83" y2="405.9" stroke="#000" stroke-width="0.8"/>
<line x1="192.63" y1="398" x2="197.03" y2="398" stroke="#000" stroke-width="0.8"/>
<rect x="190.75" y="405.9" width="8.15" height="23.4" fill="#000"/>
<line x1="202.97" y1="396.5" x2="202.97" y2="405.9" stroke="#000" stroke-width="0.8"/>
<line x1="200.78" y1="396.5" x2="205.17" y2="396.5" stroke="#000" stroke-width="0.8"/>
<rect x="199.35" y="406.35" width="7.25" height="22.95" fill="#fff" stroke="#000" stroke-width="0.9"/>
<line x1="218.43" y1="390.3" x2="218.43" y2="399.6" stroke="#000" stroke-width="0.8"/>
<line x1="216.53" y1="390.3" x2="220.33" y2="390.3" stroke="#000" stroke-width="0.8"/>
<rect x="214.35" y="399.6" width="8.15" height="29.7" fill="#000"/>
<line x1="226.57" y1="360.6" x2="226.57" y2="378.4" stroke="#000" stroke-width="0.8"/>
<line x1="224.38" y1="360.6" x2="228.77" y2="360.6" stroke="#000" stroke-width="0.8"/>
<rect x="222.95" y="378.85" width="7.25" height="50.45" fill="#fff" stroke="#000" stroke-width="0.9"/>
<line x1="241.93" y1="369.6" x2="241.93" y2="385.4" stroke="#000" stroke-width="0.8"/>
<line x1="240.03" y1="369.6" x2="243.83" y2="369.6" stroke="#000" stroke-width="0.8"/>
<rect x="237.85" y="385.4" width="8.15" height="43.9" fill="#000"/>
<line x1="250.07" y1="351.3" x2="250.07" y2="370.7" stroke="#000" stroke-width="0.8"/>
<line x1="247.57" y1="351.3" x2="252.57" y2="351.3" stroke="#000" stroke-width="0.8"/>
<rect x="246.45" y="371.15" width="7.25" height="58.15" fill="#fff" stroke="#000" stroke-width="0.9"/>
<text x="241.5" y="365.58" font-size="6.5" text-anchor="middle" fill="#000" font-weight="bold" stroke="#000" stroke-width="0.22">*</text>
<line x1="163.6" y1="340.75" x2="163.6" y2="429.85" stroke="#000" stroke-width="1.1"/>
<line x1="163.05" y1="429.3" x2="257.7" y2="429.3" stroke="#000" stroke-width="1.1"/>
<line x1="161.2" y1="429.3" x2="163.6" y2="429.3" stroke="#000" stroke-width="1"/>
<text x="159.9" y="431.6" font-size="6.4" text-anchor="end" fill="#000" font-weight="bold" stroke="#000" stroke-width="0.22">0</text>
<line x1="161.2" y1="407.3" x2="163.6" y2="407.3" stroke="#000" stroke-width="1"/>
<text x="159.9" y="409.6" font-size="6.4" text-anchor="end" fill="#000" font-weight="bold" stroke="#000" stroke-width="0.22">5</text>
<line x1="161.2" y1="385.3" x2="163.6" y2="385.3" stroke="#000" stroke-width="1"/>
<text x="159.9" y="387.6" font-size="6.4" text-anchor="end" fill="#000" font-weight="bold" stroke="#000" stroke-width="0.22">10</text>
<line x1="161.2" y1="363.3" x2="163.6" y2="363.3" stroke="#000" stroke-width="1"/>
<text x="159.9" y="365.6" font-size="6.4" text-anchor="end" fill="#000" font-weight="bold" stroke="#000" stroke-width="0.22">15</text>
<line x1="161.2" y1="341.3" x2="163.6" y2="341.3" stroke="#000" stroke-width="1"/>
<text x="159.9" y="343.6" font-size="6.4" text-anchor="end" fill="#000" font-weight="bold" stroke="#000" stroke-width="0.22">20</text>
<line x1="175.5" y1="429.3" x2="175.5" y2="431.6" stroke="#000" stroke-width="1"/>
<text x="175.5" y="438.8" font-size="6.4" text-anchor="middle" fill="#000" font-weight="bold" stroke="#000" stroke-width="0.22">0</text>
<line x1="198.9" y1="429.3" x2="198.9" y2="431.6" stroke="#000" stroke-width="1"/>
<text x="198.9" y="438.8" font-size="6.4" text-anchor="middle" fill="#000" font-weight="bold" stroke="#000" stroke-width="0.22">0.08</text>
<line x1="222.5" y1="429.3" x2="222.5" y2="431.6" stroke="#000" stroke-width="1"/>
<text x="222.5" y="438.8" font-size="6.4" text-anchor="middle" fill="#000" font-weight="bold" stroke="#000" stroke-width="0.22">0.8</text>
<line x1="246" y1="429.3" x2="246" y2="431.6" stroke="#000" stroke-width="1"/>
<text x="246" y="438.8" font-size="6.4" text-anchor="middle" fill="#000" font-weight="bold" stroke="#000" stroke-width="0.22">44</text>
<text x="210.5" y="450.6" font-size="7.6" text-anchor="middle" fill="#000" font-weight="bold" stroke="#000" stroke-width="0.22">ALT-803 (nmol/L)</text>
<text x="148.4" y="381.5" font-size="7.5" text-anchor="middle" fill="#000" font-weight="bold" stroke="#000" stroke-width="0.22" transform="rotate(-90 148.4 381.5)">% Proliferative response</text>
<text x="211.9" y="341" font-size="7.5" text-anchor="middle" fill="#000" stroke="#000" stroke-width="0.12">Human lymphocytes</text>
</g>
<g>
<rect x="294.8" y="425.3" width="12.4" height="0.9" fill="#000"/>
<rect x="307.2" y="418.4" width="12.4" height="7.8" fill="#000"/>
<rect x="320.05" y="344.25" width="11.5" height="81.95" fill="#fff" stroke="#000" stroke-width="0.9"/>
<text x="313.5" y="418.58" font-size="6.5" text-anchor="middle" fill="#000" font-weight="bold" stroke="#000" stroke-width="0.22">**</text>
<text x="325.9" y="343.28" font-size="6.5" text-anchor="middle" fill="#000" font-weight="bold" stroke="#000" stroke-width="0.22">**</text>
<line x1="289.7" y1="332.25" x2="289.7" y2="426.75" stroke="#000" stroke-width="1.1"/>
<line x1="289.15" y1="426.2" x2="337.4" y2="426.2" stroke="#000" stroke-width="1.1"/>
<line x1="287.3" y1="426.2" x2="289.7" y2="426.2" stroke="#000" stroke-width="1"/>
<text x="286" y="428.5" font-size="6.4" text-anchor="end" fill="#000" font-weight="bold" stroke="#000" stroke-width="0.22">0</text>
<line x1="287.3" y1="407.52" x2="289.7" y2="407.52" stroke="#000" stroke-width="1"/>
<text x="286" y="409.82" font-size="6.4" text-anchor="end" fill="#000" font-weight="bold" stroke="#000" stroke-width="0.22">20</text>
<line x1="287.3" y1="388.84" x2="289.7" y2="388.84" stroke="#000" stroke-width="1"/>
<text x="286" y="391.14" font-size="6.4" text-anchor="end" fill="#000" font-weight="bold" stroke="#000" stroke-width="0.22">40</text>
<line x1="287.3" y1="370.16" x2="289.7" y2="370.16" stroke="#000" stroke-width="1"/>
<text x="286" y="372.46" font-size="6.4" text-anchor="end" fill="#000" font-weight="bold" stroke="#000" stroke-width="0.22">60</text>
<line x1="287.3" y1="351.48" x2="289.7" y2="351.48" stroke="#000" stroke-width="1"/>
<text x="286" y="353.78" font-size="6.4" text-anchor="end" fill="#000" font-weight="bold" stroke="#000" stroke-width="0.22">80</text>
<line x1="287.3" y1="332.8" x2="289.7" y2="332.8" stroke="#000" stroke-width="1"/>
<text x="286" y="335.1" font-size="6.4" text-anchor="end" fill="#000" font-weight="bold" stroke="#000" stroke-width="0.22">100</text>
<line x1="301" y1="426.2" x2="301" y2="429" stroke="#000" stroke-width="1"/>
<text x="302.6" y="435.2" font-size="5.5" text-anchor="end" fill="#000" font-weight="bold" stroke="#000" stroke-width="0.22" transform="rotate(-45 302.6 435.2)">No treatment</text>
<line x1="313.4" y1="426.2" x2="313.4" y2="429" stroke="#000" stroke-width="1"/>
<text x="315" y="435.2" font-size="5.5" text-anchor="end" fill="#000" font-weight="bold" stroke="#000" stroke-width="0.22" transform="rotate(-45 315 435.2)">Soluble 145-2C11</text>
<line x1="325.8" y1="426.2" x2="325.8" y2="429" stroke="#000" stroke-width="1"/>
<text x="327.4" y="435.2" font-size="5.5" text-anchor="end" fill="#000" font-weight="bold" stroke="#000" stroke-width="0.22" transform="rotate(-45 327.4 435.2)">Immobilized 145-2C11</text>
<text x="270.6" y="380" font-size="7.5" text-anchor="middle" fill="#000" font-weight="bold" stroke="#000" stroke-width="0.22" transform="rotate(-90 270.6 380)">% Proliferative response</text>
<text x="315.6" y="324.9" font-size="7.5" text-anchor="middle" fill="#000" stroke="#000" stroke-width="0.12">Mouse</text>
<text x="315.9" y="332" font-size="7.5" text-anchor="middle" fill="#000" stroke="#000" stroke-width="0.12">lymphocytes</text>
</g>
<g>
<rect x="378.8" y="424.4" width="12.35" height="1.6" fill="#000"/>
<line x1="397.32" y1="367.6" x2="397.32" y2="375.9" stroke="#000" stroke-width="0.8"/>
<line x1="394.32" y1="367.6" x2="400.32" y2="367.6" stroke="#000" stroke-width="0.8"/>
<rect x="391.15" y="375.9" width="12.35" height="50.1" fill="#000"/>
<line x1="409.68" y1="345.6" x2="409.68" y2="358.5" stroke="#000" stroke-width="0.8"/>
<line x1="406.57" y1="345.6" x2="412.78" y2="345.6" stroke="#000" stroke-width="0.8"/>
<rect x="403.95" y="358.95" width="11.45" height="67.05" fill="#fff" stroke="#000" stroke-width="0.9"/>
<text x="396.9" y="366.88" font-size="6.5" text-anchor="middle" fill="#000" font-weight="bold" stroke="#000" stroke-width="0.22">**</text>
<text x="409.7" y="345.38" font-size="6.5" text-anchor="middle" fill="#000" font-weight="bold" stroke="#000" stroke-width="0.22">**</text>
<line x1="373.7" y1="331.95" x2="373.7" y2="426.55" stroke="#000" stroke-width="1.1"/>
<line x1="373.15" y1="426" x2="421.3" y2="426" stroke="#000" stroke-width="1.1"/>
<line x1="371.3" y1="426" x2="373.7" y2="426" stroke="#000" stroke-width="1"/>
<text x="370" y="428.3" font-size="6.4" text-anchor="end" fill="#000" font-weight="bold" stroke="#000" stroke-width="0.22">0</text>
<line x1="371.3" y1="402.62" x2="373.7" y2="402.62" stroke="#000" stroke-width="1"/>
<text x="370" y="404.93" font-size="6.4" text-anchor="end" fill="#000" font-weight="bold" stroke="#000" stroke-width="0.22">10</text>
<line x1="371.3" y1="379.25" x2="373.7" y2="379.25" stroke="#000" stroke-width="1"/>
<text x="370" y="381.55" font-size="6.4" text-anchor="end" fill="#000" font-weight="bold" stroke="#000" stroke-width="0.22">20</text>
<line x1="371.3" y1="355.88" x2="373.7" y2="355.88" stroke="#000" stroke-width="1"/>
<text x="370" y="358.18" font-size="6.4" text-anchor="end" fill="#000" font-weight="bold" stroke="#000" stroke-width="0.22">30</text>
<line x1="371.3" y1="332.5" x2="373.7" y2="332.5" stroke="#000" stroke-width="1"/>
<text x="370" y="334.8" font-size="6.4" text-anchor="end" fill="#000" font-weight="bold" stroke="#000" stroke-width="0.22">40</text>
<line x1="384.98" y1="426" x2="384.98" y2="428.8" stroke="#000" stroke-width="1"/>
<text x="386.58" y="436" font-size="5.5" text-anchor="end" fill="#000" font-weight="bold" stroke="#000" stroke-width="0.22" transform="rotate(-45 386.58 436)">No treatment</text>
<line x1="397.32" y1="426" x2="397.32" y2="428.8" stroke="#000" stroke-width="1"/>
<text x="398.93" y="436" font-size="5.5" text-anchor="end" fill="#000" font-weight="bold" stroke="#000" stroke-width="0.22" transform="rotate(-45 398.93 436)">Soluble OKT3</text>
<line x1="409.68" y1="426" x2="409.68" y2="428.8" stroke="#000" stroke-width="1"/>
<text x="411.28" y="436" font-size="5.5" text-anchor="end" fill="#000" font-weight="bold" stroke="#000" stroke-width="0.22" transform="rotate(-45 411.28 436)">Immobilized OKT3</text>
<text x="355.3" y="380" font-size="7.5" text-anchor="middle" fill="#000" font-weight="bold" stroke="#000" stroke-width="0.22" transform="rotate(-90 355.3 380)">% Proliferative response</text>
<text x="397.6" y="322.9" font-size="7.5" text-anchor="middle" fill="#000" stroke="#000" stroke-width="0.12">Human</text>
<text x="398" y="330.7" font-size="7.5" text-anchor="middle" fill="#000" stroke="#000" stroke-width="0.12">lymphocytes</text>
</g>
</svg>
</body>
</html>
